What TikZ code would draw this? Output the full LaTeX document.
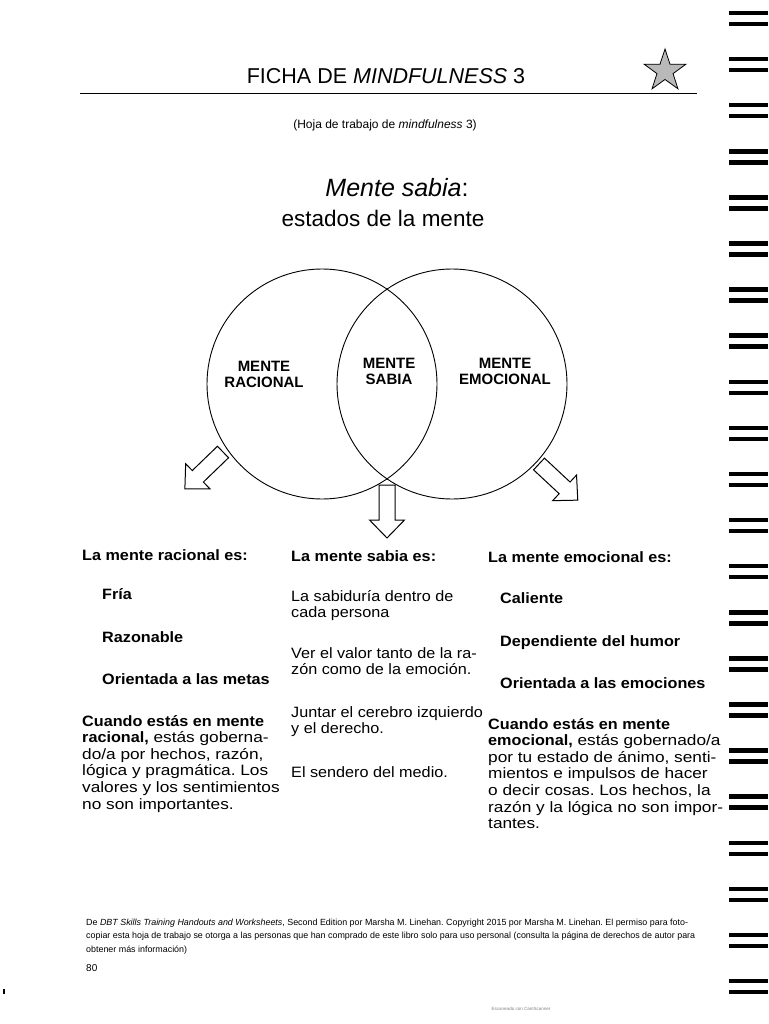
\documentclass[tikz,border=0pt]{standalone}
\usepackage{fontspec}
\setmainfont{Liberation Sans}
\newfontfamily\cuerpo{Liberation Sans}[FakeStretch=1.15]
\newfontfamily\cuerpon{Liberation Sans}[FakeStretch=1.08]
\usetikzlibrary{shapes.geometric}
\frenchspacing

\begin{document}
\begin{tikzpicture}[x=1pt, y=-1pt,
    texto/.style={anchor=base west, inner sep=0pt, align=left,
        font=\cuerpo\fontsize{15}{16.6}\selectfont},
    sabio/.style={texto, font=\cuerpon\fontsize{15}{16.6}\selectfont},
    negrita/.style={texto, font=\cuerpon\bfseries\fontsize{15}{16.6}\selectfont},
    etiqueta/.style={anchor=base, inner sep=0pt, align=center,
        font=\bfseries\fontsize{15}{16}\selectfont},
    pie/.style={anchor=base west, inner sep=0pt, align=left,
        font=\fontsize{8.9}{13.5}\selectfont},
    flecha/.pic={
        \draw[line width=1pt, fill=white] (0,-8) -- (35,-8) -- (35,-17.5)
            -- (53,0) -- (35,17.5) -- (35,8) -- (0,8) -- cycle;
    }]

    % 0. hoja
    \useasboundingbox[fill=white] (0,0) rectangle (768,1024);

    % 1. encabezado
    \node[anchor=base, inner sep=0pt, font=\fontsize{21.5}{24}\selectfont] (titulo)
        at (386,84) {FICHA DE \textit{MINDFULNESS} 3};
    \draw[line width=1.2pt] (80,93.5) -- (697,93.5);
    \node[star, star points=5, star point ratio=2.6, draw, line width=0.8pt,
        fill=gray!55, minimum size=44pt, inner sep=0pt] (estrella) at (665,71) {};

    \node[anchor=base, inner sep=0pt, font=\fontsize{12}{14}\selectfont] (hoja)
        at (385,129) {(Hoja de trabajo de \textit{mindfulness} 3)};
    \node[anchor=base, inner sep=0pt, font=\fontsize{25}{28}\selectfont] (sabia)
        at (397,197) {\textit{Mente sabia}:};
    \node[anchor=base, inner sep=0pt, font=\fontsize{22.5}{26}\selectfont] (estados)
        at (383,226) {estados de la mente};

    % 2. diagrama de Venn
    \node[circle, draw, line width=0.9pt, minimum size=230pt, inner sep=0pt] (izq) at (322,384) {};
    \node[circle, draw, line width=0.9pt, minimum size=230pt, inner sep=0pt] (der) at (452,384) {};

    % (el ancla base de un texto de varias lineas es la ultima linea)
    \node[etiqueta] (racional) at (264,387) {MENTE\\RACIONAL};
    \node[etiqueta] (centro) at (389,384) {MENTE\\SABIA};
    \node[etiqueta] (emocional) at (505,384) {MENTE\\EMOCIONAL};

    % flechas hacia las columnas
    \pic[rotate=-136] at (223,452) {flecha};
    \pic[rotate=-90] at (387,485) {flecha};
    \pic[rotate=-43] at (539,464) {flecha};

    % 3. columna racional
    \node[negrita] (t1) at (82,560) {La mente racional es:};
    \node[negrita] (r1) at (102,599) {Fría};
    \node[negrita] (r2) at (102,642) {Razonable};
    \node[negrita] (r3) at (102,684) {Orientada a las metas};
    \node[texto] (p1) at (82,809) {{\cuerpon\bfseries Cuando estás en mente}\\
        {\cuerpon\bfseries racional,} estás goberna-\\do/a por hechos, razón,\\
        lógica y pragmática. Los\\valores y los sentimientos\\no son importantes.};

    % 4. columna sabia
    \node[negrita] (t2) at (291,561) {La mente sabia es:};
    \node[sabio] (s1) at (291,617.6) {La sabiduría dentro de\\cada persona};
    \node[sabio] (s2) at (291,674.6) {Ver el valor tanto de la ra-\\zón como de la emoción.};
    \node[sabio] (s3) at (291,733.6) {Juntar el cerebro izquierdo\\y el derecho.};
    \node[sabio] (s4) at (291,777) {El sendero del medio.};

    % 5. columna emocional
    \node[negrita] (t3) at (488,562) {La mente emocional es:};
    \node[negrita] (e1) at (500,603) {Caliente};
    \node[negrita] (e2) at (500,646) {Dependiente del humor};
    \node[negrita] (e3) at (500,688) {Orientada a las emociones};
    \node[texto] (p3) at (488,828.6) {{\cuerpon\bfseries Cuando estás en mente}\\
        {\cuerpon\bfseries emocional,} estás gobernado/a\\por tu estado de ánimo, senti-\\
        mientos e impulsos de hacer\\o decir cosas. Los hechos, la\\
        razón y la lógica no son impor-\\tantes.};

    % 6. pie de pagina
    \node[pie] (fuente) at (86,952) {De \textit{DBT Skills Training Handouts and Worksheets}, Second Edition por Marsha M. Linehan. Copyright 2015 por Marsha M. Linehan. El permiso para foto-\\
        copiar esta hoja de trabajo se otorga a las personas que han comprado de este libro solo para uso personal (consulta la página de derechos de autor para\\
        obtener más información)};
    \node[anchor=base west, inner sep=0pt, font=\fontsize{10}{12}\selectfont] (pagina) at (86,971) {80};
    \node[anchor=base, inner sep=0pt, font=\fontsize{4.5}{5}\selectfont, text=gray] (escaneo)
        at (521,1010) {Escaneado con CamScanner};
    \fill (2.5,989) rectangle (4.5,994);

    % 7. espiral
    \foreach \i in {0,...,21}{
        \pgfmathsetmacro{\yb}{13+46.1*\i}
        \draw[line width=4.5pt] (729,\yb) -- (768,\yb);
        \draw[line width=4.5pt] (729,\yb+11) -- (768,\yb+11);
    }
\end{tikzpicture}
\end{document}
